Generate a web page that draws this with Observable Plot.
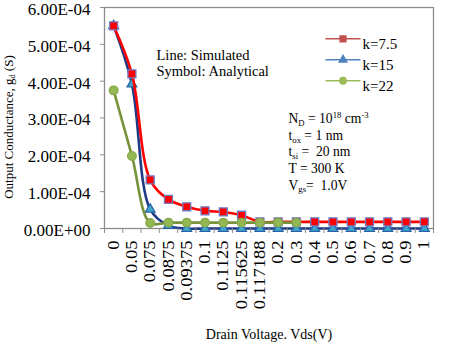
<!DOCTYPE html>
<html><head><meta charset="utf-8">
<script src="https://cdn.jsdelivr.net/npm/d3@7"></script>
<script src="https://cdn.jsdelivr.net/npm/@observablehq/plot@0.6"></script>
<style>html,body{margin:0;padding:0;background:#fff}svg{display:block}</style>
</head><body><div id="chart"></div>
<script>
// ---- data ----
const vdsLabels = ["0","0.05","0.075","0.0875","0.09375","0.1","0.1125","0.115625","0.117188","0.2","0.3","0.4","0.5","0.6","0.7","0.8","0.9","1"];
const gdK75 = [5.5e-4, 4.2e-4, 1.32e-4, 0.79e-4, 0.59e-4, 0.48e-4, 0.45e-4, 0.36e-4, 0.18e-4, 0.18e-4, 0.18e-4, 0.18e-4, 0.18e-4, 0.18e-4, 0.18e-4, 0.18e-4, 0.18e-4, 0.18e-4];
const gdK15 = [5.5e-4, 3.92e-4, 0.52e-4, 0.08e-4, 0, 0, 0, 0, 0, 0, 0, 0, 0, 0, 0, 0, 0, 0];
const gdK22 = [3.75e-4, 1.97e-4, 0.15e-4, 0.16e-4, 0.16e-4, 0.16e-4, 0.16e-4, 0.16e-4, 0.16e-4, 0.16e-4, 0.16e-4];
const seriesNames = ["k=7.5", "k=15", "k=22"];
const yTickValues = [0, 1e-4, 2e-4, 3e-4, 4e-4, 5e-4, 6e-4];
const noteLines = ["Line: Simulated", "Symbol: Analytical"];
const paramLines = ["N_{D} = 10^{18} cm^{-3}", "t_{ox} = 1 nm", "t_{si} =  20 nm", "T = 300 K", "V_{gs}=  1.0V"];
const xTitle = "Drain Voltage. Vds(V)";
const yTitle = "Output Conductance, g_{d} (S)";

// ---- styling ----
const FONT = "Liberation Serif, Times New Roman, serif";
const lineSymbol = {draw(ctx) { ctx.moveTo(-17.5, 0); ctx.lineTo(17.5, 0); }};
const styles = [
  {values: gdK75, line: "#ff0000", fill: "#ff0000", stroke: "#6d7fc6", symbol: "square", r: 4.5, lr: 3.2, legend: "#c0504d"},
  {values: gdK15, line: "#1f3b86", fill: "#3fa6cc", stroke: "#2a64a8", symbol: "triangle", r: 3.6, lr: 2.8, legend: "#4f81bd"},
  {values: gdK22, line: "#77933c", fill: "#93b753", stroke: "#86a948", symbol: "circle", r: 4.3, lr: 3.2, legend: "#9bbb59"}
];
const drawOrder = [1, 0, 2];

function sci(v) {
  if (v === 0) return "0.00E+00";
  const e = Math.floor(Math.log10(Math.abs(v)) + 1e-9);
  const m = v / Math.pow(10, e);
  return m.toFixed(2) + "E" + (e < 0 ? "-" : "+") + String(Math.abs(e)).padStart(2, "0");
}

const marks = [Plot.frame({stroke: "#8c8c8c", strokeWidth: 1.3})];
for (const k of drawOrder) {
  const s = styles[k];
  const rows = s.values.map((v, i) => ({i, v, name: seriesNames[k]}));
  marks.push(Plot.line(rows, {x: "i", y: "v", stroke: s.line, strokeWidth: 2.6, curve: "catmull-rom"}));
  marks.push(Plot.dot(rows, {x: "i", y: "v", symbol: s.symbol, r: s.r, fill: s.fill, stroke: s.stroke, strokeWidth: 1.3}));
}
// legend
seriesNames.forEach((name, j) => {
  const s = styles[j];
  const dy = 31.3 + 21 * j;
  marks.push(Plot.dot([name], {frameAnchor: "top-left", dx: 238.5, dy, symbol: lineSymbol, fill: "none", stroke: s.legend, strokeWidth: 1.5}));
  marks.push(Plot.dot([name], {frameAnchor: "top-left", dx: 238.5, dy, symbol: s.symbol, r: s.lr, fill: s.legend, stroke: s.legend}));
  marks.push(Plot.text([name], {frameAnchor: "top-left", dx: 258, dy, textAnchor: "start", fontSize: 15, fontFamily: FONT, fill: "#000"}));
});
// notes
const noteDy = [42, 58];
noteLines.forEach((t, j) => marks.push(Plot.text([t], {frameAnchor: "top-left", dx: 52, dy: noteDy[j], textAnchor: "start", fontSize: 14.5, fontFamily: FONT, fill: "#000"})));
const paramDy = [106, 123, 139, 156, 172.5];
paramLines.forEach((t, j) => marks.push(Plot.text([t], {frameAnchor: "top-left", dx: 184, dy: paramDy[j], textAnchor: "start", fontSize: 13.6, fontFamily: FONT, fill: "#000"})));
// titles
marks.push(Plot.text([xTitle], {frameAnchor: "bottom", dy: 110, textAnchor: "middle", fontSize: 14, fontFamily: FONT, fill: "#000"}));
marks.push(Plot.text([yTitle], {frameAnchor: "left", dx: -96, dy: 9, rotate: -90, textAnchor: "middle", fontSize: 13, fontFamily: FONT, fill: "#000"}));
// axes
marks.push(Plot.axisY(yTickValues, {tickSize: 4, tickFormat: () => "", stroke: "#8c8c8c", label: null}));
marks.push(Plot.axisY(yTickValues, {tickSize: 0, tickPadding: 14, tickFormat: sci, fontSize: 17, fontFamily: FONT, fill: "#000", dy: 2, label: null}));
marks.push(Plot.axisX(d3.range(-0.5, vdsLabels.length, 1), {tickSize: 5, tickFormat: () => "", stroke: "#8c8c8c", label: null}));
marks.push(Plot.axisX(d3.range(vdsLabels.length), {tickSize: 0, tickPadding: 12, tickRotate: -90, tickFormat: i => vdsLabels[i], fontSize: 16, fontFamily: FONT, fill: "#000", label: null}));

const chart = Plot.plot({
  width: 474, height: 350,
  marginLeft: 104, marginRight: 41, marginTop: 7, marginBottom: 122,
  style: {fontFamily: FONT, background: "#fff", color: "#000"},
  x: {type: "linear", domain: [-0.5, vdsLabels.length - 0.5], axis: null},
  y: {type: "linear", domain: [0, 6e-4], axis: null},
  marks
});
document.getElementById("chart").appendChild(chart);

// stretch rotated x tick labels slightly along their length
chart.querySelectorAll('g[aria-label="x-axis tick label"] text').forEach(t => {
  const tr = t.getAttribute("transform");
  if (tr && /rotate/.test(tr)) t.setAttribute("transform", tr + " scale(1.16,1)");
});

// rich text: _{sub} and ^{sup}
chart.querySelectorAll("text").forEach(t => {
  const txt = t.textContent;
  if (!/[_^]\{/.test(txt)) return;
  const fs = parseFloat(getComputedStyle(t).fontSize) || 14;
  const parts = [];
  const re = /([_^])\{([^}]*)\}/g;
  let last = 0, m;
  while ((m = re.exec(txt))) {
    if (m.index > last) parts.push([txt.slice(last, m.index), null]);
    parts.push([m[2], m[1] === "_" ? "sub" : "sup"]);
    last = re.lastIndex;
  }
  if (last < txt.length) parts.push([txt.slice(last), null]);
  while (t.firstChild) t.removeChild(t.firstChild);
  let off = 0;
  for (const [str, kind] of parts) {
    const sp = document.createElementNS("http://www.w3.org/2000/svg", "tspan");
    const target = kind === "sub" ? 0.18 * fs : kind === "sup" ? -0.36 * fs : 0;
    sp.setAttribute("dy", (target - off).toFixed(2));
    off = target;
    if (kind) sp.setAttribute("font-size", (0.64 * fs).toFixed(1));
    sp.textContent = str;
    t.appendChild(sp);
  }
});
</script>
</body></html>
